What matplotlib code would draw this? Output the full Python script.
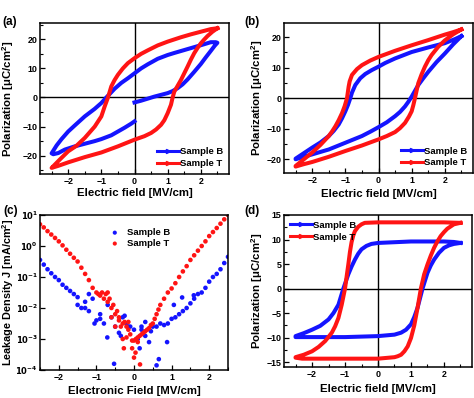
import numpy as np
import matplotlib
matplotlib.use("Agg")
import matplotlib.pyplot as plt
from matplotlib.lines import Line2D
from matplotlib.ticker import MultipleLocator, FixedLocator

plt.rcParams['font.family'] = ['Liberation Sans', 'DejaVu Sans']
plt.rcParams['font.weight'] = 'bold'
plt.rcParams['mathtext.default'] = 'bf'

# ---------------- data ----------------
# Panel (a): P-E loops (field in MV/cm, polarization in uC/cm^2)
a_B_x = [0.0, 0.2, 0.4, 0.6, 0.8, 1.0, 1.15, 1.3, 1.45, 1.6, 1.8, 2.0, 2.15, 2.3, 2.42, 2.5,
         2.45, 2.3, 2.1, 1.8, 1.5, 1.2, 1.0, 0.7, 0.4, 0.2, 0.0, -0.2, -0.4, -0.6, -0.75, -0.85,
         -1.0, -1.2, -1.5, -1.8, -2.0, -2.2, -2.35, -2.45, -2.5,
         -2.45, -2.3, -2.1, -1.8, -1.5, -1.2, -1.0, -0.7, -0.5, -0.3, -0.1, 0.0]
a_B_y = [-1.7, -1.1, -0.4, 0.3, 0.9, 1.5, 2.2, 3.2, 4.5, 6.2, 8.8, 11.5, 13.8, 16.0, 17.8, 18.8,
         19.0, 19.0, 18.3, 17.3, 16.3, 15.3, 14.6, 13.3, 11.4, 10.0, 8.3, 6.6, 5.0, 3.0, 1.2, 0.0,
         -1.9, -3.9, -6.5, -9.6, -11.7, -14.3, -16.5, -18.3, -19.2,
         -19.5, -19.1, -17.9, -16.8, -15.9, -15.0, -14.3, -13.0, -11.7, -10.4, -9.0, -8.2]
a_T_x = [2.5, 2.3, 2.0, 1.7, 1.4, 1.0, 0.7, 0.4, 0.2, 0.0, -0.2, -0.35, -0.5, -0.6, -0.7, -0.8,
         -0.9, -1.0, -1.2, -1.5, -1.75, -2.0, -2.25, -2.5,
         -2.3, -2.0, -1.5, -1.0, -0.5, 0.0, 0.3, 0.5, 0.65, 0.8, 0.9, 1.0, 1.1, 1.15, 1.2, 1.3,
         1.4, 1.5, 1.6, 1.7, 1.8, 1.9, 2.0, 2.1, 2.2, 2.35, 2.5]
a_T_y = [23.8, 23.5, 22.6, 21.7, 20.7, 19.2, 17.9, 16.2, 15.0, 13.5, 11.8, 10.0, 7.8, 6.0, 3.8, 0.0,
         -3.1, -6.5, -10.0, -13.9, -16.6, -18.5, -21.3, -24.2,
         -23.5, -22.3, -20.5, -18.9, -16.8, -14.5, -13.3, -12.2, -11.0, -9.4, -7.8, -5.4, -2.5, 0.0, 2.0, 4.0,
         6.0, 8.3, 10.6, 13.0, 15.2, 17.0, 18.6, 19.9, 21.1, 22.6, 23.8]

# Panel (b)
b_B_x = [2.5, 2.3, 2.0, 1.5, 1.0, 0.5, 0.2, 0.0, -0.2, -0.4, -0.55, -0.7, -0.8, -0.85, -0.92,
         -1.0, -1.1, -1.2, -1.35, -1.5, -1.75, -2.0, -2.25, -2.5,
         -2.5, -2.25, -2.0, -1.5, -1.0, -0.5, -0.25, 0.0, 0.25, 0.5, 0.65, 0.8, 0.9, 1.0, 1.1,
         1.2, 1.35, 1.5, 1.75, 2.0, 2.25, 2.5]
b_B_y = [20.3, 19.3, 18.0, 16.6, 15.1, 13.0, 11.5, 10.3, 9.2, 7.9, 6.5, 4.3, 1.8, 0.0, -2.2,
         -4.3, -6.6, -8.6, -10.7, -12.4, -14.5, -16.2, -18.0, -19.8,
         -20.0, -19.2, -18.4, -16.8, -14.6, -12.4, -11.0, -9.5, -7.9, -5.9, -4.5, -2.7, -1.2, 0.5, 2.4,
         4.3, 6.5, 8.6, 11.8, 14.6, 17.6, 20.3]
b_T_x = [2.5, 2.25, 2.0, 1.5, 1.0, 0.5, 0.0, -0.25, -0.5, -0.65, -0.8, -0.87, -0.9, -0.95, -1.02,
         -1.1, -1.2, -1.3, -1.4, -1.5, -1.75, -2.0, -2.25, -2.5,
         -2.5, -2.25, -2.0, -1.5, -1.0, -0.5, 0.0, 0.25, 0.5, 0.65, 0.8, 0.92, 1.0, 1.05, 1.1, 1.15,
         1.2, 1.3, 1.4, 1.5, 1.6, 1.8, 2.0, 2.25, 2.5]
b_T_y = [22.5, 21.6, 20.8, 19.0, 17.3, 15.5, 13.5, 12.3, 10.8, 9.5, 7.6, 5.5, 3.8, 0.0, -2.6,
         -4.9, -7.2, -9.2, -10.9, -12.4, -15.3, -17.8, -20.0, -22.2,
         -22.4, -21.6, -20.9, -19.2, -17.3, -15.5, -13.5, -12.4, -11.1, -9.8, -8.1, -6.0, -4.3, -2.3, 0.0, 2.5,
         4.9, 7.8, 10.3, 12.4, 14.1, 16.8, 18.9, 20.9, 22.5]

# Panel (c): field (MV/cm) and log10 of leakage current density (mA/cm^2)
c_B_x = [-2.5, -2.4, -2.3, -2.2, -2.1, -2.0, -1.9, -1.8, -1.7, -1.6, -1.5, -1.4, -1.3, -1.2, -1.1,
         -1.0, -0.9, -0.8, -0.7, -0.6, -0.5, -0.4, -0.3, -0.2, -0.1, 0.0, 0.1, 0.2, 0.3, 0.4,
         0.5, 0.6, 0.7, 0.8, 0.9, 1.0, 1.1, 1.2, 1.3, 1.4, 1.5, 1.6, 1.7, 1.8, 1.9, 2.0,
         2.1, 2.2, 2.3, 2.4, 2.5,
         -0.53, -0.71, 0.66, 0.6, 0.88, 1.06, 1.28, 1.59, -1.5, -1.3, -1.2, -1.05, -0.9,
         -0.35, -0.25, 0.15, 0.3, 0.45, 0.2, -0.15]
c_B_logJ = [-0.45, -0.6, -0.75, -0.88, -1.0, -1.1, -1.25, -1.35, -1.45, -1.55, -1.65, -2.0, -1.8, -2.1, -1.7,
            -2.4, -2.2, -2.5, -1.9, -2.3, -2.6, -2.8, -2.3, -2.5, -2.6, -2.7, -3.0, -2.7, -2.9, -3.1,
            -2.6, -2.6, -2.5, -2.55, -2.5, -2.35, -2.3, -2.2, -2.1, -2.0, -1.85, -1.7, -1.55, -1.5, -1.35, -1.15,
            -1.0, -0.9, -0.75, -0.55, -0.35,
            -3.8, -2.95, -3.65, -3.85, -3.1, -1.9, -1.66, -1.59, -1.9, -2.0, -1.55, -2.5, -2.35,
            -2.9, -2.25, -3.3, -2.45, -2.75, -2.6, -2.6]
c_T_x = [-2.5, -2.4, -2.3, -2.2, -2.1, -2.0, -1.9, -1.8, -1.7, -1.6, -1.5, -1.4, -1.3, -1.2, -1.1,
         -1.0, -0.95, -0.9, -0.85, -0.8, -0.75, -0.7, -0.65, -0.6, -0.55, -0.5, -0.45, -0.4, -0.35,
         -0.3, -0.25, -0.2, -0.15, -0.1, -0.05, 0.0, 0.05, 0.1, 0.15, 0.2, 0.25, 0.3, 0.35, 0.4,
         0.45, 0.5, 0.55, 0.6, 0.65, 0.7, 0.8, 0.9, 1.0, 1.1, 1.2, 1.3, 1.4, 1.5, 1.6, 1.7, 1.8,
         1.9, 2.0, 2.1, 2.2, 2.3, 2.4, 2.5,
         -0.27, -0.05, 0.04, 0.0, 0.16, -0.4, -0.3, -0.15, -0.7, -0.2, 0.1, -0.5, -0.6]
c_T_logJ = [0.70, 0.6, 0.48, 0.37, 0.26, 0.15, 0.02, -0.12, -0.25, -0.38, -0.5, -0.7, -0.9, -1.1, -1.35,
            -1.5, -1.55, -1.6, -1.5, -1.7, -1.55, -1.8, -1.7, -2.0, -1.9, -2.2, -2.1, -2.4, -2.6,
            -2.5, -2.45, -2.6, -2.7, -2.85, -3.05, -3.05, -3.0, -2.95, -2.9, -2.85, -2.8, -2.75, -2.7, -2.65,
            -2.55, -2.5, -2.35, -2.2, -2.05, -1.9, -1.7, -1.5, -1.37, -1.2, -1.0, -0.82, -0.65, -0.45, -0.3, -0.15, 0.0,
            0.15, 0.32, 0.45, 0.58, 0.72, 0.86, 1.0,
            -3.3, -3.3, -3.44, -3.6, -3.82, -2.3, -3.0, -2.45, -1.5, -2.95, -3.1, -2.6, -2.3]

# Panel (d)
d_B_x = [2.5, 2.3, 2.0, 1.0, 0.0, -0.2, -0.35, -0.5, -0.6, -0.7, -0.8, -0.9, -1.05, -1.2, -1.35,
         -1.5, -1.75, -2.0, -2.25, -2.5,
         -2.5, -2.0, -1.0, 0.0, 0.5, 0.7, 0.85, 1.0, 1.1, 1.2, 1.35, 1.5, 1.6, 1.7, 1.85, 2.0,
         2.15, 2.3, 2.5]
d_B_y = [9.3, 9.5, 9.6, 9.6, 9.3, 9.1, 8.7, 8.0, 7.1, 5.9, 4.5, 2.9, 0.0, -3.3, -5.0,
         -6.3, -7.6, -8.4, -9.1, -9.7,
         -9.9, -9.9, -9.9, -9.7, -9.4, -9.0, -8.4, -7.3, -5.8, -3.9, 0.0, 3.2, 4.7, 5.9, 7.3, 8.3,
         8.8, 9.1, 9.3]
d_T_x = [2.5, 2.0, 0.0, -0.4, -0.5, -0.6, -0.7, -0.75, -0.8, -0.85, -0.9, -0.95, -1.0, -1.1, -1.2,
         -1.3, -1.4, -1.6, -1.8, -2.0, -2.25, -2.5,
         -2.5, -2.3, 0.0, 0.5, 0.6, 0.7, 0.8, 0.9, 1.0, 1.1, 1.2, 1.3, 1.4, 1.5, 1.6, 1.7, 1.8,
         1.9, 2.0, 2.1, 2.3, 2.5]
d_T_y = [13.4, 13.5, 13.5, 13.4, 13.1, 12.6, 11.7, 10.8, 9.5, 7.5, 4.9, 2.5, 0.0, -3.3, -6.0,
         -7.7, -9.0, -10.7, -11.9, -12.8, -13.5, -14.0,
         -14.1, -14.3, -14.3, -14.0, -13.8, -13.5, -12.8, -11.8, -10.1, -7.5, -3.9, 0.0, 2.9, 4.9, 6.7, 8.3, 9.6,
         10.7, 11.5, 12.2, 13.1, 13.4]

labels = ["Sample B", "Sample T"]
colors = ["#1414ff", "#ff1414"]

# ---------------- figure ----------------
W, H = 474, 398
fig = plt.figure(figsize=(W / 100, H / 100), dpi=100)

def rect(l, r, t, b):
    return [l / W, 1 - b / H, (r - l) / W, (b - t) / H]

ax_a = fig.add_axes(rect(40, 229, 23, 174))
ax_b = fig.add_axes(rect(284, 473, 23, 173))
ax_c = fig.add_axes(rect(40, 228, 215, 370))
ax_d = fig.add_axes(rect(284, 472, 215, 367))

tick_fs = 6.4
lab_fs = 8.2
leg_fs = 6.8

def style(ax):
    for s in ax.spines.values():
        s.set_linewidth(1.1)
    ax.tick_params(which='major', direction='in', length=3.5, width=0.9, labelsize=tick_fs, pad=2)
    ax.tick_params(which='minor', direction='in', length=2, width=0.8)
    for t in ax.get_xticklabels() + ax.get_yticklabels():
        t.set_fontweight('bold')

def loop_panel(ax, xs, ys, ylim, yticks, yminor, legloc, leg_anchor, ylab_x, xlab_y):
    for x, y, c, lab in zip(xs, ys, colors, labels):
        ax.plot(x, y, '-', color=c, lw=2.9, solid_joinstyle='round', label=lab)
    ax.axhline(0, color='black', lw=1.0, zorder=0.5)
    ax.axvline(0, color='black', lw=1.0, zorder=0.5)
    ax.set_xlim(-2.85, 2.85)
    ax.set_ylim(*ylim)
    ax.set_xticks([-2, -1, 0, 1, 2])
    ax.xaxis.set_minor_locator(MultipleLocator(0.5))
    ax.set_yticks(yticks)
    ax.yaxis.set_minor_locator(MultipleLocator(yminor))
    ax.set_xlabel("Electric field [MV/cm]", fontsize=lab_fs, fontweight='bold')
    ax.set_ylabel(r"Polarization [$\mathregular{\mu}$C/cm$^{\mathregular{2}}$]", fontsize=lab_fs,
                  fontweight='bold')
    ax.yaxis.set_label_coords(ylab_x, 0.5)
    ax.xaxis.set_label_coords(0.5, xlab_y)
    handles = [Line2D([0, 0.5, 1], [0, 0, 0], color=c, lw=2.2, marker='>', ms=3, markevery=[1])
               for c in colors]
    ax.legend(handles, labels, loc=legloc, bbox_to_anchor=leg_anchor, frameon=False,
              handlelength=2.4, handletextpad=0.1, labelspacing=0.3,
              borderaxespad=0.2, prop={'weight': 'bold', 'size': leg_fs})
    style(ax)

loop_panel(ax_a, [a_B_x, a_T_x], [a_B_y, a_T_y], (-26.3, 25.6), [-20, -10, 0, 10, 20], 5,
           'lower right', (1.0, 0.0), -0.125, -0.093)
loop_panel(ax_b, [b_B_x, b_T_x], [b_B_y, b_T_y], (-24.5, 24.6), [-20, -10, 0, 10, 20], 5,
           'lower right', (1.0, 0.0), -0.1, -0.107)
loop_panel(ax_d, [d_B_x, d_T_x], [d_B_y, d_T_y], (-16, 15), [-15, -10, -5, 0, 5, 10, 15], 2.5,
           'upper left', (0.0, 1.0), -0.1, -0.11)

# panel (c)
for x, lj, c, lab in zip([c_B_x, c_T_x], [c_B_logJ, c_T_logJ], colors, labels):
    ax_c.scatter(x, 10.0 ** np.array(lj), s=11, color=c, edgecolors='none', label=lab)
ax_c.set_yscale('log')
ax_c.set_xlim(-2.5, 2.5)
ax_c.set_ylim(1e-4, 1e1)
ax_c.set_xticks([-2, -1, 0, 1, 2])
ax_c.xaxis.set_minor_locator(MultipleLocator(0.5))
ax_c.yaxis.set_major_locator(FixedLocator([1e-4, 1e-3, 1e-2, 1e-1, 1e0, 1e1]))
ax_c.set_yticklabels([r"$\mathbf{10^{-4}}$", r"$\mathbf{10^{-3}}$", r"$\mathbf{10^{-2}}$",
                      r"$\mathbf{10^{-1}}$", r"$\mathbf{10^{0}}$", r"$\mathbf{10^{1}}$"])
ax_c.yaxis.set_minor_locator(FixedLocator([]))
ax_c.set_xlabel("Electronic Field [MV/cm]", fontsize=lab_fs, fontweight='bold')
ax_c.set_ylabel(r"Leakage Density J [mA/cm$^{\mathregular{2}}$]", fontsize=7.8, fontweight='bold')
ax_c.yaxis.set_label_coords(-0.13, 0.5)
ax_c.xaxis.set_label_coords(0.5, -0.105)
ax_c.legend(loc='upper center', bbox_to_anchor=(0.52, 0.97), frameon=False, handletextpad=0.3,
            labelspacing=0.2, prop={'weight': 'bold', 'size': leg_fs}, markerscale=0.9)
style(ax_c)
ax_c.tick_params(axis='y', labelsize=6.0, pad=1.5)

# panel labels
for lbl, (x, y) in zip(["(a)", "(b)", "(c)", "(d)"], [(2, 22), (244, 22), (3, 211), (244, 211)]):
    fig.text(x / W, 1 - y / H, lbl, fontsize=8.5, fontweight='bold', va='center', ha='left')

fig.savefig("out.png", dpi=100)
